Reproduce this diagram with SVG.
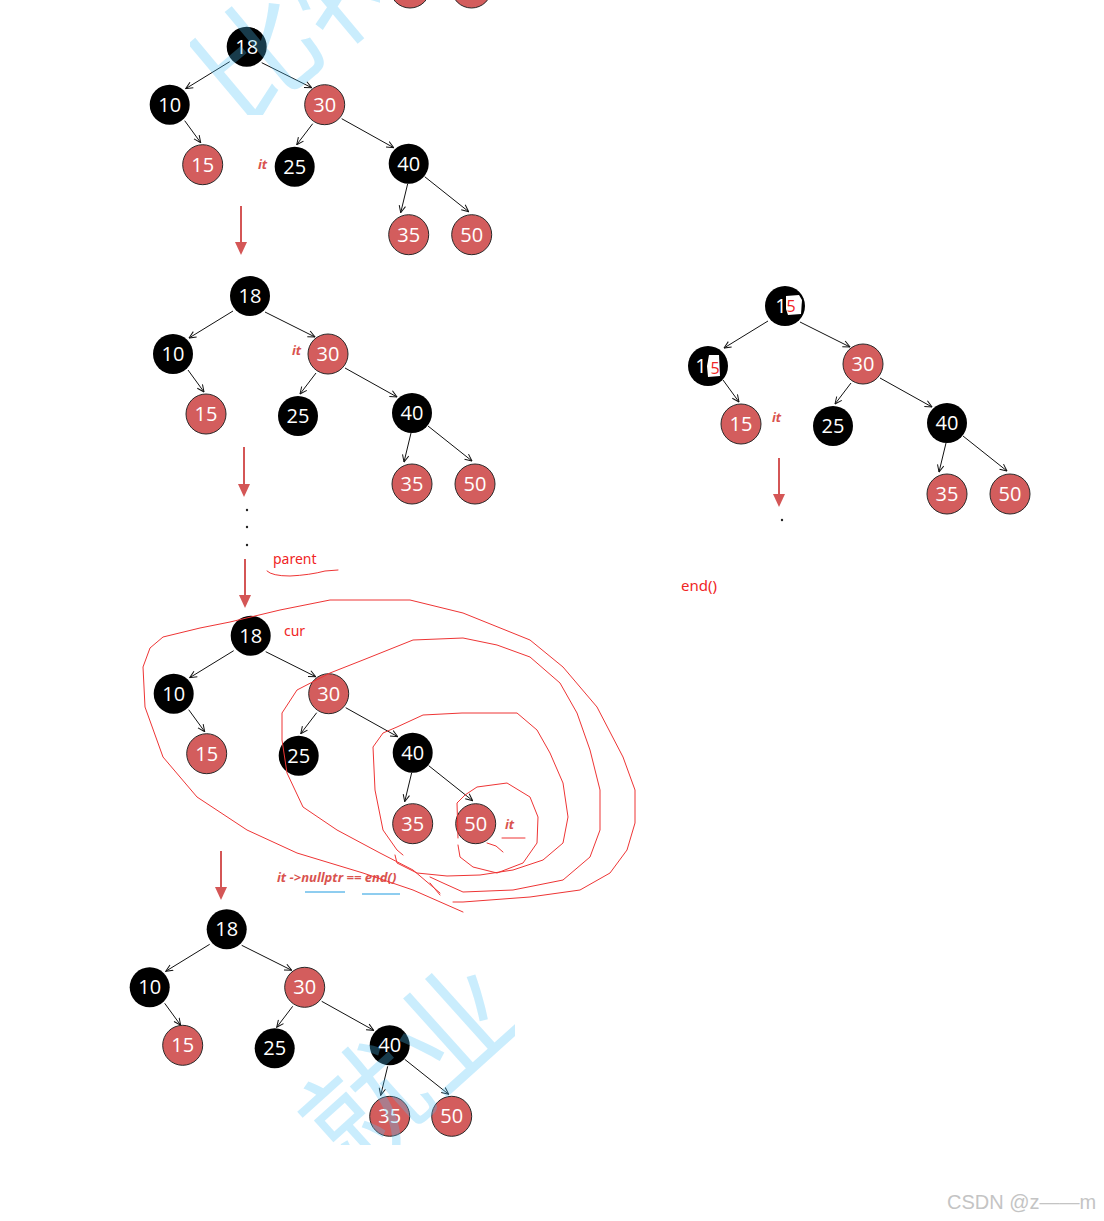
<svg xmlns="http://www.w3.org/2000/svg" width="1104" height="1221" viewBox="0 0 1104 1221">
<style>
.b{fill:#000}
.r{fill:#d35d5d;stroke:#2a2a2a;stroke-width:1}
.t{fill:#fff;font-family:"Open Sans","Noto Sans",sans-serif;font-size:20px;text-anchor:middle}
.e{stroke:#111;stroke-width:1;fill:none;marker-end:url(#ah)}
.ra{stroke:#d45656;stroke-width:2;fill:none}
.rh{fill:#d45656}
.lab{fill:#d9534f;font-family:"Open Sans","Noto Sans",sans-serif;font-size:13px;font-style:italic;font-weight:bold}
.note{fill:#f02525;font-family:"Noto Sans","Open Sans",sans-serif}
.loop{stroke:#ee3535;stroke-width:1;fill:none;stroke-linejoin:round;stroke-linecap:round}
.wm{fill:#4fc3f7;fill-opacity:0.3;font-family:"Noto Sans CJK SC",sans-serif}
</style>
<defs>
<marker id="ah" viewBox="0 0 8 8" refX="7.5" refY="4" markerWidth="8" markerHeight="8" markerUnits="userSpaceOnUse" orient="auto">
<path d="M0.5,0.8 L7.5,4 L0.5,7.2" fill="none" stroke="#111" stroke-width="1"/>
</marker>
<clipPath id="cTop"><rect x="190" y="0" width="190" height="115"/></clipPath>
<clipPath id="cBot"><rect x="290" y="930" width="225" height="215"/></clipPath>
</defs>
<rect width="1104" height="1221" fill="#fff"/>

<!-- partial nodes at top -->
<g id="top-partial-a"><circle class="r" cx="410" cy="-12" r="20"/></g>
<g id="top-partial-b"><circle class="r" cx="471.5" cy="-12" r="20"/></g>

<!-- connectors -->
<g id="connectors">
 <g transform="translate(246.7,46.7)">
  <path class="e" d="M-17,15 L-61,42"/><path class="e" d="M15,16 L65,41"/>
  <path class="e" d="M-62,74 L-46,96"/><path class="e" d="M66,77 L50,98"/>
  <path class="e" d="M95,72 L147,101"/><path class="e" d="M161,137 L154,166"/>
  <path class="e" d="M178,130 L222,165"/>
 </g>
 <g transform="translate(250,296)">
  <path class="e" d="M-17,15 L-61,42"/><path class="e" d="M15,16 L65,41"/>
  <path class="e" d="M-62,74 L-46,96"/><path class="e" d="M66,77 L50,98"/>
  <path class="e" d="M95,72 L147,101"/><path class="e" d="M161,137 L154,166"/>
  <path class="e" d="M178,130 L222,165"/>
 </g>
 <g transform="translate(250.7,635.7)">
  <path class="e" d="M-17,15 L-61,42"/><path class="e" d="M15,16 L65,41"/>
  <path class="e" d="M-62,74 L-46,96"/><path class="e" d="M66,77 L50,98"/>
  <path class="e" d="M95,72 L147,101"/><path class="e" d="M161,137 L154,166"/>
  <path class="e" d="M178,130 L222,165"/>
 </g>
 <g transform="translate(226.7,929.3)">
  <path class="e" d="M-17,15 L-61,42"/><path class="e" d="M15,16 L65,41"/>
  <path class="e" d="M-62,74 L-46,96"/><path class="e" d="M66,77 L50,98"/>
  <path class="e" d="M95,72 L147,101"/><path class="e" d="M161,137 L154,166"/>
  <path class="e" d="M178,130 L222,165"/>
 </g>
 <g transform="translate(785,306)">
  <path class="e" d="M-17,15 L-61,42"/><path class="e" d="M15,16 L65,41"/>
  <path class="e" d="M-62,74 L-46,96"/><path class="e" d="M66,77 L50,98"/>
  <path class="e" d="M95,72 L147,101"/><path class="e" d="M161,137 L154,166"/>
  <path class="e" d="M178,130 L222,165"/>
 </g>
 <!-- red step arrows -->
 <g id="step-arrows">
  <path class="ra" d="M241,206 V244"/><path class="rh" d="M235,242 H247 L241,255 Z"/>
  <path class="ra" d="M244,447 V486"/><path class="rh" d="M238,484 H250 L244,497 Z"/>
  <path class="ra" d="M245,559 V597"/><path class="rh" d="M239,595 H251 L245,608 Z"/>
  <path class="ra" d="M221,851 V889"/><path class="rh" d="M215,887 H227 L221,900 Z"/>
  <path class="ra" d="M779,458 V496"/><path class="rh" d="M773,494 H785 L779,507 Z"/>
 </g>
</g>

<!-- Tree 1 -->
<g id="tree1" transform="translate(246.7,46.7)">
 <g id="t1-18"><circle class="b" r="20"/><text class="t" y="7">18</text></g>
 <g id="t1-10" transform="translate(-77,58)"><circle class="b" r="20"/><text class="t" y="7">10</text></g>
 <g id="t1-30" transform="translate(78,58)"><circle class="r" r="20"/><text class="t" y="7">30</text></g>
 <g id="t1-15" transform="translate(-44,118)"><circle class="r" r="20"/><text class="t" y="7">15</text></g>
 <g id="t1-25" transform="translate(48,120)"><circle class="b" r="20"/><text class="t" y="7">25</text></g>
 <g id="t1-40" transform="translate(162,117)"><circle class="b" r="20"/><text class="t" y="7">40</text></g>
 <g id="t1-35" transform="translate(162,188)"><circle class="r" r="20"/><text class="t" y="7">35</text></g>
 <g id="t1-50" transform="translate(225,188)"><circle class="r" r="20"/><text class="t" y="7">50</text></g>
</g>
<text class="lab" x="258" y="169">it</text>

<!-- Tree 2 -->
<g id="tree2" transform="translate(250,296)">
 <g id="t2-18"><circle class="b" r="20"/><text class="t" y="7">18</text></g>
 <g id="t2-10" transform="translate(-77,58)"><circle class="b" r="20"/><text class="t" y="7">10</text></g>
 <g id="t2-30" transform="translate(78,58)"><circle class="r" r="20"/><text class="t" y="7">30</text></g>
 <g id="t2-15" transform="translate(-44,118)"><circle class="r" r="20"/><text class="t" y="7">15</text></g>
 <g id="t2-25" transform="translate(48,120)"><circle class="b" r="20"/><text class="t" y="7">25</text></g>
 <g id="t2-40" transform="translate(162,117)"><circle class="b" r="20"/><text class="t" y="7">40</text></g>
 <g id="t2-35" transform="translate(162,188)"><circle class="r" r="20"/><text class="t" y="7">35</text></g>
 <g id="t2-50" transform="translate(225,188)"><circle class="r" r="20"/><text class="t" y="7">50</text></g>
</g>
<text class="lab" x="292" y="355">it</text>
<circle cx="247" cy="510" r="1.2" fill="#222"/>
<circle cx="247" cy="527" r="1.2" fill="#222"/>
<circle cx="247" cy="545" r="1.2" fill="#222"/>
<text class="note" x="273" y="564" font-size="14">parent</text>
<path class="loop" d="M267,571 Q272,576 290,576 Q310,575 325,571 L338,570"/>

<!-- Tree 3 -->
<g id="tree3" transform="translate(250.7,635.7)">
 <g id="t3-18"><circle class="b" r="20"/><text class="t" y="7">18</text></g>
 <g id="t3-10" transform="translate(-77,58)"><circle class="b" r="20"/><text class="t" y="7">10</text></g>
 <g id="t3-30" transform="translate(78,58)"><circle class="r" r="20"/><text class="t" y="7">30</text></g>
 <g id="t3-15" transform="translate(-44,118)"><circle class="r" r="20"/><text class="t" y="7">15</text></g>
 <g id="t3-25" transform="translate(48,120)"><circle class="b" r="20"/><text class="t" y="7">25</text></g>
 <g id="t3-40" transform="translate(162,117)"><circle class="b" r="20"/><text class="t" y="7">40</text></g>
 <g id="t3-35" transform="translate(162,188)"><circle class="r" r="20"/><text class="t" y="7">35</text></g>
 <g id="t3-50" transform="translate(225,188)"><circle class="r" r="20"/><text class="t" y="7">50</text></g>
</g>
<text class="note" x="284" y="636" font-size="14">cur</text>
<text class="lab" x="505" y="829">it</text>
<text class="lab" x="277" y="882">it -&gt;nullptr == end()</text>
<path d="M305,892 H345 M362,894 H400" stroke="#1e9be0" stroke-width="1" fill="none"/>

<!-- hand-drawn loops -->
<g id="loops">
 <path class="loop" d="M463,912 L413,890 L363,873 L297,853 L247,830 L197,797 L163,757 L145,707 L143,667 L150,648 L163,637 L200,628 L230,622 L280,610 L330,600 L410,600 L463,613 L530,640 L563,667 L597,707 L623,757 L635,790 L635,823 L627,850 L610,873 L580,890 L530,897 L463,902 L453,902"/>
 <path class="loop" d="M440,893 L413,870 L380,853 L337,830 L303,807 L287,773 L282,740 L282,713 L297,690 L330,673 L363,660 L413,640 L463,638 L497,645 L530,657 L560,683 L577,713 L590,750 L600,790 L600,830 L590,857 L563,880 L513,890 L463,892 L443,883 L430,877"/>
 <path class="loop" d="M403,855 L397,850 L383,830 L375,790 L373,747 L383,733 L397,727 L423,715 L462,713 L517,713 L537,730 L550,753 L563,783 L568,817 L563,843 L543,860 L513,870 L480,875 L447,876 L417,873 L397,863 L395,855"/>
 <path class="loop" d="M458,838 L457,803 L465,795 L477,787 L507,783 L530,797 L538,817 L537,843 L523,863 L497,873 L473,867 L460,857 L458,845"/>
 <path class="loop" d="M502,838 L525,838"/>
 <path class="loop" d="M487,843 L496,846 L503,852"/>
 <path class="loop" d="M430,883 L440,895"/>
</g>

<!-- Tree 4 -->
<g id="tree4" transform="translate(226.7,929.3)">
 <g id="t4-18"><circle class="b" r="20"/><text class="t" y="7">18</text></g>
 <g id="t4-10" transform="translate(-77,58)"><circle class="b" r="20"/><text class="t" y="7">10</text></g>
 <g id="t4-30" transform="translate(78,58)"><circle class="r" r="20"/><text class="t" y="7">30</text></g>
 <g id="t4-15" transform="translate(-44,116)"><circle class="r" r="20"/><text class="t" y="7">15</text></g>
 <g id="t4-25" transform="translate(48,119)"><circle class="b" r="20"/><text class="t" y="7">25</text></g>
 <g id="t4-40" transform="translate(163,116)"><circle class="b" r="20"/><text class="t" y="7">40</text></g>
 <g id="t4-35" transform="translate(163,187)"><circle class="r" r="20"/><text class="t" y="7">35</text></g>
 <g id="t4-50" transform="translate(225,187)"><circle class="r" r="20"/><text class="t" y="7">50</text></g>
</g>

<!-- Right tree -->
<g id="tree5" transform="translate(785,306)">
 <g id="t5-root"><circle class="b" r="20"/><text class="t" x="-4" y="7">1</text><path d="M1,-10 L14,-11 L17,-6 L16,8 L3,9 L1,3 Z" fill="#fff"/><text x="6" y="6" fill="#f02525" font-family="Open Sans,sans-serif" font-size="16" text-anchor="middle">5</text></g>
 <g id="t5-10" transform="translate(-77,60)"><circle class="b" r="20"/><text class="t" x="-7" y="7">1</text><path d="M1,-11 L11,-11 L12,10 L0,11 L-1,0 Z" fill="#fff"/><text x="7" y="8" fill="#f02525" font-family="Open Sans,sans-serif" font-size="16" text-anchor="middle">5</text></g>
 <g id="t5-30" transform="translate(78,58)"><circle class="r" r="20"/><text class="t" y="7">30</text></g>
 <g id="t5-15" transform="translate(-44,118)"><circle class="r" r="20"/><text class="t" y="7">15</text></g>
 <g id="t5-25" transform="translate(48,120)"><circle class="b" r="20"/><text class="t" y="7">25</text></g>
 <g id="t5-40" transform="translate(162,117)"><circle class="b" r="20"/><text class="t" y="7">40</text></g>
 <g id="t5-35" transform="translate(162,188)"><circle class="r" r="20"/><text class="t" y="7">35</text></g>
 <g id="t5-50" transform="translate(225,188)"><circle class="r" r="20"/><text class="t" y="7">50</text></g>
</g>
<text class="lab" x="772" y="422">it</text>
<circle cx="782" cy="520" r="1.2" fill="#222"/>
<text class="note" x="681" y="591" font-size="15">end()</text>

<!-- watermark fragments -->
<g clip-path="url(#cTop)"><text class="wm" font-size="120" transform="translate(240,130) rotate(-40)">比特</text></g>
<g clip-path="url(#cBot)"><text class="wm" font-size="120" transform="translate(350,1180) rotate(-42)">就业</text></g>

<text x="947" y="1209" fill="#c4c4c4" font-family="Liberation Sans,Arial,sans-serif" font-size="20">CSDN @z——m</text>
</svg>
